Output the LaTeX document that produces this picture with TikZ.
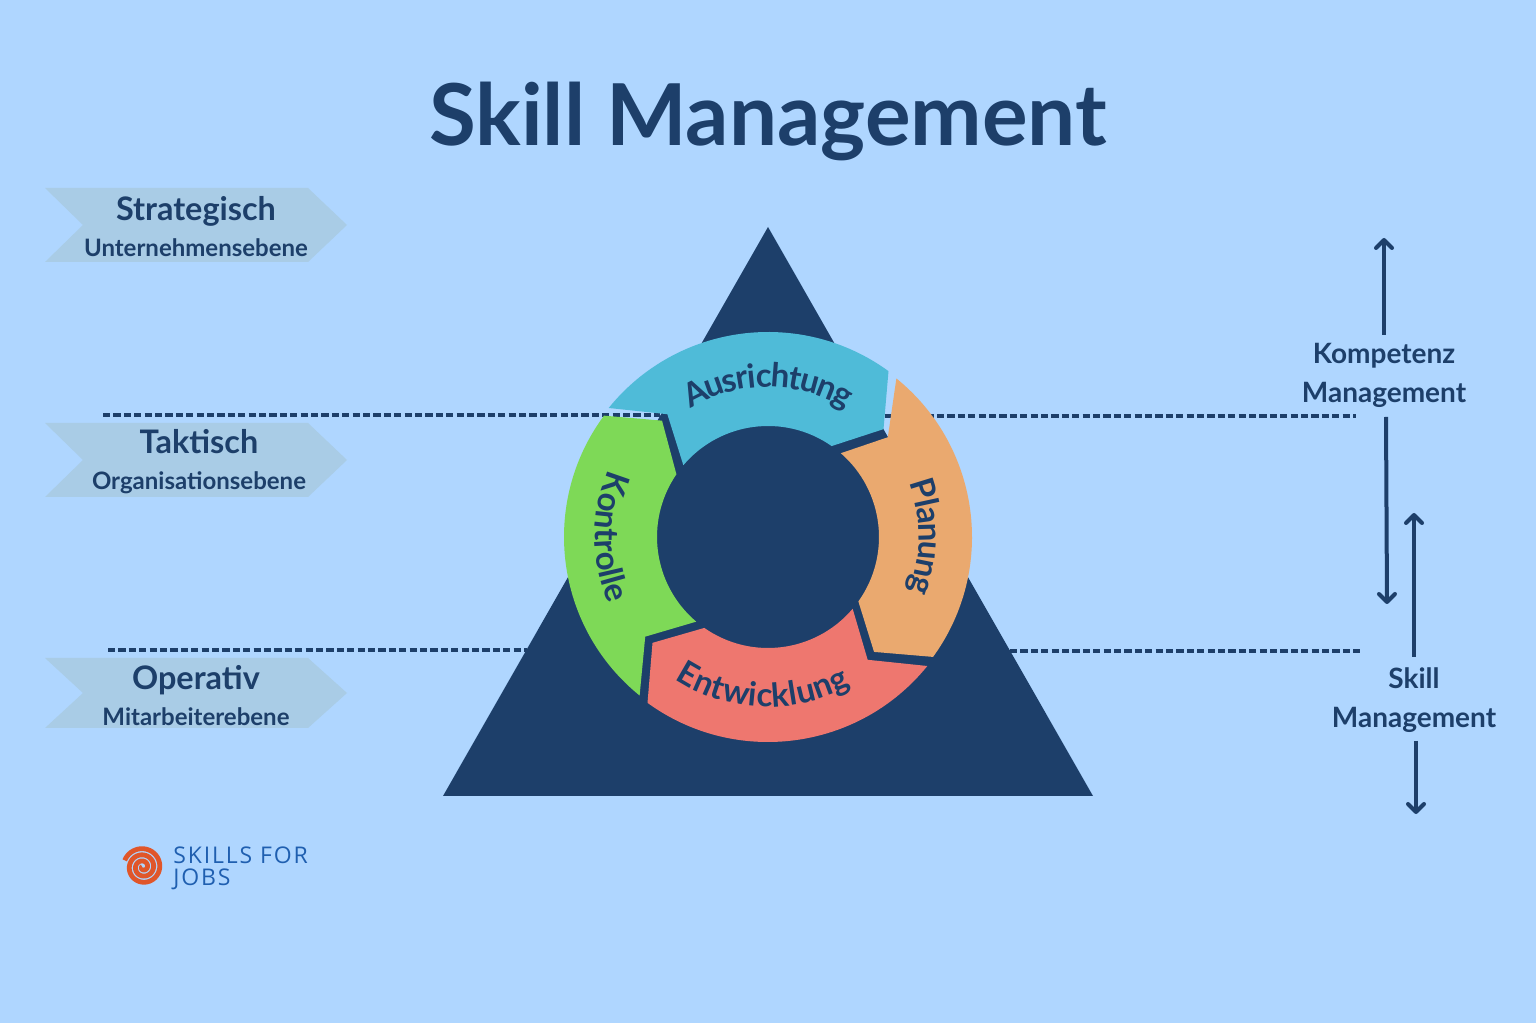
\documentclass[tikz,border=0pt]{standalone}
\usepackage{fontspec}
\setmainfont{Lato}
\newfontfamily\logofont[LetterSpace=8]{Open Sans}
\usetikzlibrary{decorations.text,arrows.meta}
\definecolor{bgblue}{HTML}{AFD6FF}
\definecolor{navy}{HTML}{1D3F6A}
\definecolor{bandblue}{HTML}{A9CCE6}
\definecolor{segblue}{HTML}{4FBBD8}
\definecolor{segorange}{HTML}{EAA96F}
\definecolor{seggreen}{HTML}{7ED957}
\definecolor{segred}{HTML}{EE776F}
\definecolor{logoblue}{HTML}{1F5FB0}
\definecolor{logored}{HTML}{E0562A}
\newcommand{\segfont}{\fontsize{16.5}{20}\selectfont\bfseries\color{navy}}
\tikzset{
	band/.style={fill=bandblue,draw=none},
	bighead/.style={font=\fontsize{16.2}{18}\selectfont\bfseries,text=navy},
	subhead/.style={font=\fontsize{12}{14}\selectfont\bfseries,text=navy},
	sidelabel/.style={font=\fontsize{14}{19.5}\selectfont\bfseries,text=navy,align=center},
	levelline/.style={navy,line width=1.6pt,dash pattern=on 3.6pt off 1.6pt},
	sidearrow/.style={navy,line width=2pt,-{Straight Barb[length=4pt,width=8pt,round]}},
	seglabel/.style 2 args={decorate,decoration={text along path,raise=#2,text align=center,text={|\segfont|#1}}}
}
\begin{document}
\begin{tikzpicture}[x=0.5pt,y=0.5pt]
	\fill[bgblue] (0,0) rectangle (1536,1023);
	\useasboundingbox (0,0) rectangle (1536,1023);
	% title
	\node[font=\fontsize{42.7}{50}\selectfont\bfseries,text=navy] (title) at (768,902) {Skill Management};
	% bands on the left
	\foreach \name/\ya/\yb/\xt/\ybig/\ysub/\big/\small in {strat/835/761/196/812/775/Strategisch/Unternehmensebene,takt/600/526/199/581/540/Taktisch/Organisationsebene,oper/365/295/196/343/306/Operativ/Mitarbeiterebene}{
		\fill[band] (45,\ya) -- (308,\ya) -- (347,{(\ya+\yb)/2}) -- (308,\yb) -- (45,\yb) -- (83,{(\ya+\yb)/2}) -- cycle;
		\node[bighead] (\name big) at (\xt,\ybig) {\big};
		\node[subhead] (\name sub) at (\xt,\ysub) {\small};
	}
	% level lines
	\coordinate (topleft) at (103,608);
	\coordinate (topmid) at (660,608);
	\coordinate (topgap) at (885,607);
	\coordinate (topright) at (1356,607);
	\coordinate (botleft) at (108,373);
	\coordinate (botmid) at (527,373);
	\coordinate (botgap) at (1010,372);
	\coordinate (botright) at (1362,372);
	\draw[levelline] (topleft) -- (topmid);
	\draw[levelline] (topgap) -- (topright);
	\draw[levelline] (botleft) -- (botmid);
	\draw[levelline] (botgap) -- (botright);
	% pyramid
	\fill[navy] (768,796) -- (1093,227) -- (443,227) -- cycle;
	% cycle segments, centre (768,486)
	\coordinate (c) at (768,486);
	\fill[segblue] ([shift={(141:205)}]c) arc[start angle=141,end angle=54,radius=205] -- ++(-5,-58) -- ([shift={(55:111)}]c) arc[start angle=55,end angle=139.7,radius=111] -- ++(-16,51) -- cycle;
	\fill[segorange] ([shift={(51:204)}]c) arc[start angle=51,end angle=-36,radius=204] -- ++(-59,5) -- ([shift={(-35.5:111)}]c) arc[start angle=-35.5,end angle=49,radius=111] -- ++(47,16) -- cycle;
	\fill[segred] ([shift={(-39:205)}]c) arc[start angle=-39,end angle=-126,radius=205] -- ++(5,60) -- ([shift={(-125:111)}]c) arc[start angle=-125,end angle=-40.3,radius=111] -- ++(15,-51) -- cycle;
	\fill[seggreen] ([shift={(231:204)}]c) arc[start angle=231,end angle=143.5,radius=204] -- ++(58,-5) -- ([shift={(145.6:111)}]c) arc[start angle=145.6,end angle=229.7,radius=111] -- ++(-51,-15) -- cycle;
	% curved labels
	\path[seglabel={Ausrichtung}{-8pt}] ([shift={(150:166)}]c) arc[start angle=150,end angle=30,radius=166];
	\path[seglabel={Planung}{-6.5pt}] ([shift={(60:164)}]c) arc[start angle=60,end angle=-60,radius=164];
	\path[seglabel={Kontrolle}{-0.5pt}] ([shift={(120:172)}]c) arc[start angle=120,end angle=240,radius=172];
	\path[seglabel={Entwicklung}{-2.5pt}] ([shift={(208:165)}]c) arc[start angle=208,end angle=328,radius=165];
	% arrows on the right
	\node[sidelabel] (kompetenz) at (1384,648) {Kompetenz\\Management};
	\coordinate (kompup) at (1384,785);
	\coordinate (kompdown) at (1387,419);
	\draw[sidearrow] (1384,688) -- (kompup);
	\draw[sidearrow] (1386,606) -- (kompdown);
	\node[sidelabel] (skill) at (1414,323) {Skill\\Management};
	\coordinate (skillup) at (1414,510);
	\coordinate (skilldown) at (1416,209);
	\draw[sidearrow] (1414,366) -- (skillup);
	\draw[sidearrow] (1416,282) -- (skilldown);
	% logo
	\draw[logored,line width=2.4pt] plot[domain=0:1080,samples=140,smooth] ({143+(1+\x/1080*18.5)*cos(\x-920)},{156+(1+\x/1080*18.5)*sin(\x-920)});
	\node[font=\logofont\fontsize{11.5}{11}\selectfont,text=logoblue,align=left,anchor=west,inner sep=0pt] (logo) at (173,155) {SKILLS FOR\\JOBS};
\end{tikzpicture}
\end{document}
